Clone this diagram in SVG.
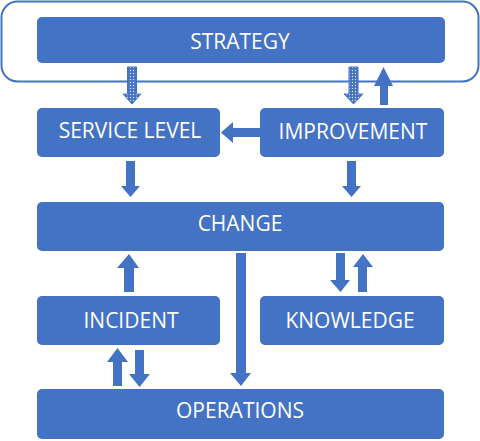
<svg xmlns="http://www.w3.org/2000/svg" width="480" height="441" viewBox="0 0 480 441">
<style>
.box{fill:#4472C4;}
.lbl{fill:#fff;font-family:"Open Sans","Noto Sans",sans-serif;font-size:21px;text-anchor:middle;}
.arr{fill:#4472C4;}
.dot{fill:url(#dots);stroke:#4472C4;stroke-width:1;}
</style>
<defs>
<pattern id="dots" width="3" height="3" patternUnits="userSpaceOnUse">
<rect width="3" height="3" fill="#4472C4"/>
<circle cx="1.5" cy="1.5" r="0.7" fill="#dfe6f5"/>
</pattern>
</defs>
<rect x="1.5" y="1.5" width="477" height="80" rx="16" fill="#fff" stroke="#4472C4" stroke-width="2"/>
<g id="connectors">
<path class="dot" d="M127.5,67 H136.5 V94 H141 L132,104 L123,94 H127.5 Z"/>
<path class="dot" d="M349,67 H358 V94 H363 L353.5,104 L344,94 H349 Z"/>
<path class="arr" d="M380,105 V86 H374 L383.5,67 L393,86 H388 V105 Z"/>
<path class="arr" d="M260,128 V137 H233 V143 L221,132.5 L233,122 V128 Z"/>
<path class="arr" d="M126,161 H135 V186 H140 L130.5,197 L121,186 H126 Z"/>
<path class="arr" d="M347,161 H356 V186 H361 L351.5,197 L342,186 H347 Z"/>
<path class="arr" d="M124,292 V268 H117 L129,254 L139,268 H134 V292 Z"/>
<path class="arr" d="M236,253 H246 V373 H251 L241,386 L230,373 H236 Z"/>
<path class="arr" d="M336,253 H345 V280 H350 L340.5,292 L330,280 H336 Z"/>
<path class="arr" d="M358,292 V267 H353 L363,254 L373,267 H367 V292 Z"/>
<path class="arr" d="M113,386 V362 H107 L117.5,348 L128,362 H122 V386 Z"/>
<path class="arr" d="M135,350 H144 V374 H150 L139.5,387 L129,374 H135 Z"/>
</g>
<g id="strategy"><rect class="box" x="37" y="17" width="408" height="46" rx="5"/><text class="lbl" x="240" y="49">STRATEGY</text></g>
<g id="service-level"><rect class="box" x="37" y="108" width="183" height="49" rx="5"/><text class="lbl" x="130" y="138">SERVICE LEVEL</text></g>
<g id="improvement"><rect class="box" x="260" y="108" width="184" height="49" rx="5"/><text class="lbl" x="353" y="139">IMPROVEMENT</text></g>
<g id="change"><rect class="box" x="37" y="202" width="407" height="49" rx="5"/><text class="lbl" x="240" y="231">CHANGE</text></g>
<g id="incident"><rect class="box" x="37" y="296" width="183" height="49" rx="5"/><text class="lbl" x="131" y="328">INCIDENT</text></g>
<g id="knowledge"><rect class="box" x="260" y="296" width="184" height="49" rx="5"/><text class="lbl" x="350" y="328">KNOWLEDGE</text></g>
<g id="operations"><rect class="box" x="37" y="389" width="407" height="50" rx="5"/><text class="lbl" x="240" y="418">OPERATIONS</text></g>
</svg>
